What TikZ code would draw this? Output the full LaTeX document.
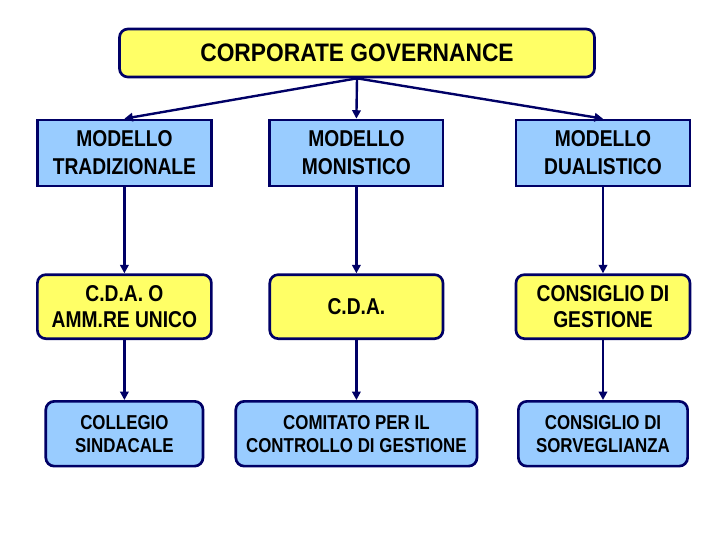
\documentclass[tikz,border=0pt]{standalone}
\usepackage{fontspec}
\setmainfont{Liberation Sans}[FakeStretch=0.9]
\newfontfamily\boxfont{Liberation Sans}[FakeStretch=0.84]
\usepackage{xcolor}
\usepackage{tikz}
\usetikzlibrary{arrows.meta,positioning}

\definecolor{govyellow}{HTML}{FFFF66}
\definecolor{govblue}{HTML}{99CCFF}
\definecolor{govnavy}{HTML}{000066}

\begin{document}
\begin{tikzpicture}[
  model/.style={rectangle, draw=govnavy, fill=govblue, line width=1.9pt,
    minimum height=1.65cm, minimum width=4.35cm, align=center,
    font=\boxfont\fontsize{16.3}{20}\selectfont\bfseries, inner sep=2pt},
  organ/.style={rectangle, draw=govnavy, fill=govyellow, rounded corners=6pt, line width=1.9pt,
    minimum height=1.6cm, minimum width=4.35cm, align=center,
    font=\boxfont\fontsize{16.3}{19}\selectfont\bfseries, inner sep=2pt},
  control/.style={rectangle, draw=govnavy, fill=govblue, rounded corners=6pt, line width=1.9pt,
    minimum height=1.62cm, align=center,
    font=\boxfont\fontsize{14.3}{16.5}\selectfont\bfseries, inner sep=2pt},
  arr/.style={-{Triangle[length=6pt,width=6pt]}, line width=1.7pt, color=govnavy},
]
  \useasboundingbox (0,0) rectangle (18,-13.5);

  \node[rectangle, draw=govnavy, fill=govyellow, rounded corners=6pt, line width=1.9pt,
    minimum height=1.2cm, minimum width=11.875cm,
    font=\fontsize{18}{20}\selectfont\bfseries] (cg) at (8.925,-1.325) {CORPORATE GOVERNANCE};

  % modelli
  \node[model] (trad) at (3.11,-3.825)  {MODELLO\\TRADIZIONALE};
  \node[model, minimum width=4.33cm] (mono) at (8.91,-3.825)  {MODELLO\\MONISTICO};
  \node[model] (dual) at (15.075,-3.825) {MODELLO\\DUALISTICO};

  % organi di gestione
  \node[organ, below=2.15cm of trad] (cda1) {C.D.A. O\\AMM.RE UNICO};
  \node[organ, minimum width=4.33cm, below=2.15cm of mono] (cda2) {C.D.A.};
  \node[organ, below=2.15cm of dual] (cdg)  {CONSIGLIO DI\\GESTIONE};

  % organi di controllo
  \node[control, minimum width=3.93cm, below=1.5cm of cda1] (coll) {COLLEGIO\\SINDACALE};
  \node[control, minimum width=6.03cm, below=1.5cm of cda2] (comi) {COMITATO PER IL\\CONTROLLO DI GESTIONE};
  \node[control, minimum width=4.23cm, below=1.5cm of cdg]  (sorv) {CONSIGLIO DI\\SORVEGLIANZA};

  \draw[arr] (cg.south) -- (trad.north);
  \draw[arr] (cg.south) -- (mono.north);
  \draw[arr] (cg.south) -- (dual.north);

  \draw[arr] (trad) -- (cda1);
  \draw[arr] (mono) -- (cda2);
  \draw[arr] (dual) -- (cdg);

  \draw[arr] (cda1) -- (coll);
  \draw[arr] (cda2) -- (comi);
  \draw[arr] (cdg)  -- (sorv);
\end{tikzpicture}
\end{document}
